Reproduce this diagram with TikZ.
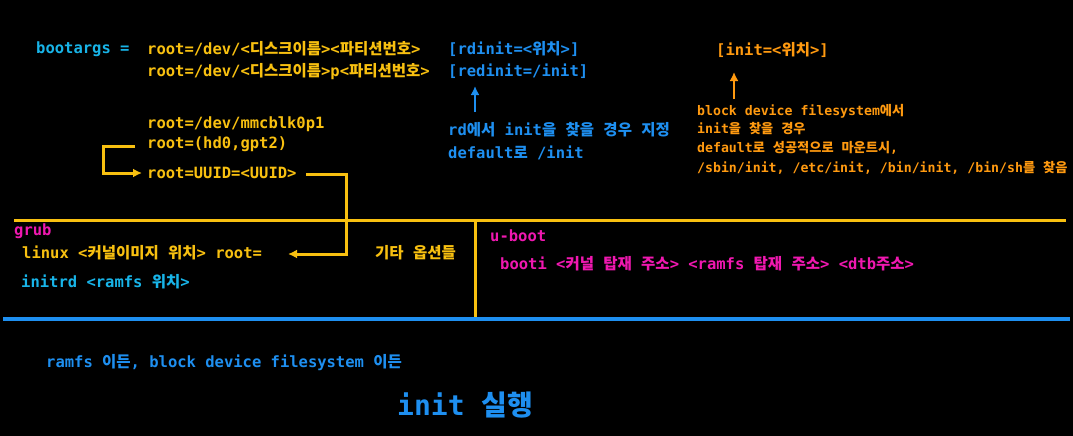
\documentclass[tikz,border=0pt]{standalone}
\usepackage{fontspec}
\usetikzlibrary{arrows.meta}
\setmainfont{DejaVu Sans Mono}
\newfontfamily\krf{Noto Sans CJK KR}
\newcommand\K[1]{{\krf #1}}
\definecolor{ygold}{HTML}{F8C010}
\definecolor{dblue}{HTML}{1E8FF0}
\definecolor{cyanx}{HTML}{18B4E8}
\definecolor{orng}{HTML}{FF9A10}
\definecolor{mag}{HTML}{F018B0}
\begin{document}
\begin{tikzpicture}[x=1pt,y=-1pt,
  t/.style={anchor=west,inner sep=0pt,font=\fontsize{15.5}{17}\selectfont\bfseries},
  s/.style={anchor=west,inner sep=0pt,font=\fontsize{13.2}{15}\selectfont\bfseries},
  yl/.style={ygold,line width=3pt},
  arr/.style={-{Latex[length=9pt,width=9pt]}}]
\useasboundingbox[fill=black] (0,0) rectangle (1073,436);
\node[t,cyanx] (ba) at (36,49) {bootargs =};
\node[t,ygold] (r1) at (147,49) {root=/dev/<\K{디스크이름}><\K{파티션번호}>};
\node[t,ygold] (r2) at (147,72) {root=/dev/<\K{디스크이름}>p<\K{파티션번호}>};
\node[t,dblue] (rd1) at (448,49) {[rdinit=<\K{위치}>]};
\node[t,dblue] (rd2) at (448,71) {[redinit=/init]};
\node[t,orng] (in) at (716,50) {[init=<\K{위치}>]};
\coordinate (ba1) at (475,112); \coordinate (ba2) at (475,86);
\draw[dblue,line width=2.6pt,arr] (ba1) -- (ba2);
\coordinate (oa1) at (734,99); \coordinate (oa2) at (734,72);
\draw[orng,line width=2.6pt,arr] (oa1) -- (oa2);
\node[t,dblue] (rdt1) at (448,130) {rd\K{에서} init\K{을} \K{찾을} \K{경우} \K{지정}};
\node[t,dblue] (rdt2) at (448,153) {default\K{로} /init};
\node[s,orng] (o1) at (697,111) {block device filesystem\K{에서}};
\node[s,orng] (o2) at (697,129) {init\K{을} \K{찾을} \K{경우}};
\node[s,orng] (o3) at (697,148) {default\K{로} \K{성공적으로} \K{마운트시},};
\node[s,orng] (o4) at (697,168) {/sbin/init, /etc/init, /bin/init, /bin/sh\K{를} \K{찾음}};
\node[t,ygold] (m1) at (147,124) {root=/dev/mmcblk0p1};
\node[t,ygold] (m2) at (147,144) {root=(hd0,gpt2)};
\node[t,ygold] (m3) at (147,173) {root=UUID=<UUID>};
\coordinate (c1) at (135,146); \coordinate (c2) at (103,146); \coordinate (c3) at (103,173); \coordinate (c4) at (142,173);
\draw[yl,arr] (c1) -- (c2) -- (c3) -- (c4);
\coordinate (d1) at (306,174); \coordinate (d2) at (346,174); \coordinate (d3) at (346,254); \coordinate (d4) at (288,254);
\draw[yl,arr] (d1) -- (d2) -- (d3) -- (d4);
\coordinate (h1) at (14,220); \coordinate (h2) at (1066,220);
\draw[yl] (h1) -- (h2);
\coordinate (v1) at (475,220); \coordinate (v2) at (475,318);
\draw[yl] (v1) -- (v2);
\coordinate (b1) at (3,319); \coordinate (b2) at (1070,319);
\draw[dblue,line width=3.2pt] (b1) -- (b2);
\node[t,mag] (gr) at (14,231) {grub};
\node[t,ygold] (lx) at (22,253) {linux <\K{커널이미지} \K{위치}> root=};
\node[t,ygold] (etc) at (375,253) {\K{기타} \K{옵션들}};
\node[t,cyanx] (ird) at (21,282) {initrd <ramfs \K{위치}>};
\node[t,mag] (ub) at (490,236) {u-boot};
\node[t,mag] (bt) at (500,264) {booti <\K{커널} \K{탑재} \K{주소}> <ramfs \K{탑재} \K{주소}> <dtb\K{주소}>};
\node[t,dblue] (rm) at (46,363) {ramfs \K{이든}, block device filesystem \K{이든}};
\node[anchor=west,inner sep=0pt,dblue,font=\fontsize{28}{32}\selectfont\bfseries] (ex) at (397,405) {init \K{실행}};
\end{tikzpicture}
\end{document}
